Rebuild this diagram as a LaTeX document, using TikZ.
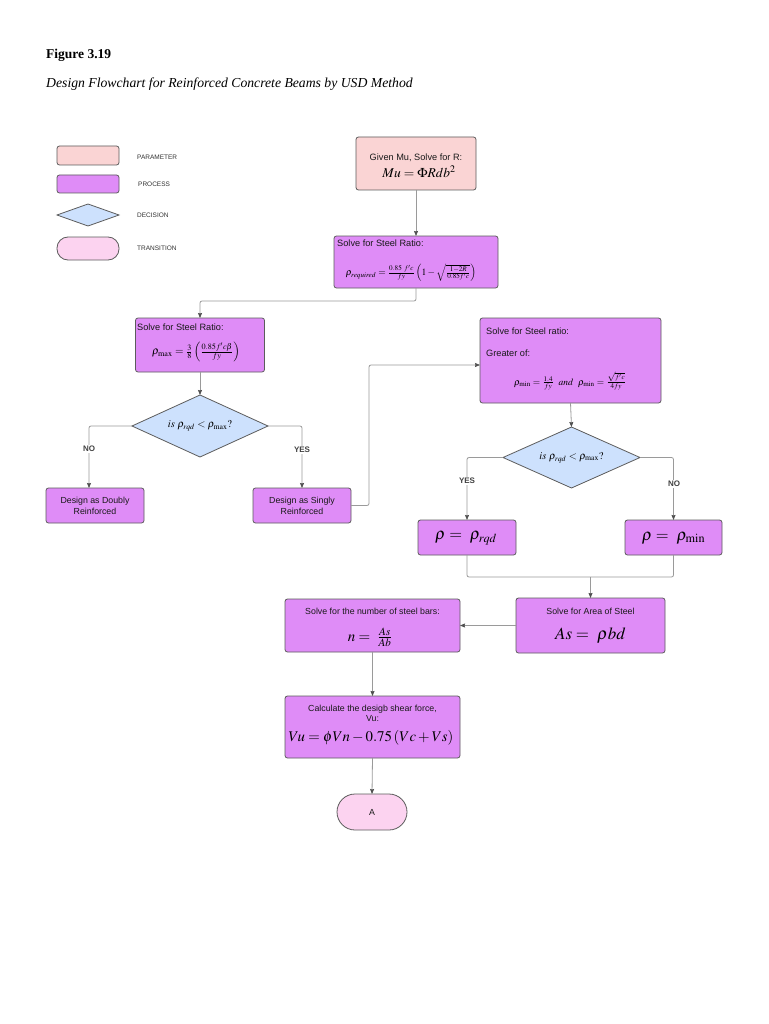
\documentclass[tikz,border=0pt]{standalone}
\usepackage{amsmath}
\usepackage{mathptmx}
\usepackage{fontspec}
\setmainfont{Liberation Serif}
\newfontfamily\uisans{Liberation Sans}
\usetikzlibrary{shapes.geometric,arrows.meta}
\definecolor{paramc}{HTML}{FAD4D4}
\definecolor{procc}{HTML}{DF8CF7}
\definecolor{decc}{HTML}{CDE1FD}
\definecolor{transc}{HTML}{FCD3F0}
\definecolor{edgec}{HTML}{5C5C5C}
\definecolor{connc}{HTML}{9A9A9A}
\definecolor{tipc}{HTML}{505050}
\tikzset{
  boxbase/.style={draw=edgec, line width=0.8pt, rounded corners=2.5pt, inner sep=0pt, outer sep=0pt},
  parambox/.style={boxbase, fill=paramc},
  procbox/.style={boxbase, fill=procc},
  decbox/.style={draw=edgec, line width=0.8pt, fill=decc, shape=diamond, inner sep=0pt, outer sep=0pt},
  transbox/.style={boxbase, fill=transc},
  txt/.style={font=\uisans\fontsize{9.2}{11}\selectfont, inner sep=0pt, text=black!90},
  legtxt/.style={font=\uisans\fontsize{6.5}{8}\selectfont, inner sep=0pt, anchor=west, text=black!80},
  lbl/.style={font=\uisans\bfseries\fontsize{8}{9}\selectfont, fill=white, inner sep=1.5pt, text=black!75},
  mth/.style={inner sep=0pt},
  conn/.style={draw=connc, line width=0.8pt, rounded corners=2pt},
  arr/.style={conn, -{Stealth[length=5pt,width=4pt,inset=0.5pt,color=tipc]}}
}
\begin{document}
\begin{tikzpicture}[x=1pt,y=-1pt]
\useasboundingbox[fill=white] (0,0) rectangle (768,1024);

% titles
\node[anchor=base west, inner sep=0pt, font=\bfseries\fontsize{13.5}{15}\selectfont] (fig) at (46,59) {Figure 3.19};
\node[anchor=base west, inner sep=0pt, font=\itshape\fontsize{13.7}{16}\selectfont] (cap) at (46,88) {Design Flowchart for Reinforced Concrete Beams by USD Method};

% legend
\node[parambox, minimum width=62pt, minimum height=19pt] (lp) at (88,155.5) {};
\node[procbox, minimum width=62pt, minimum height=18pt] (lr) at (88,184) {};
\node[decbox, minimum width=62pt, minimum height=22pt] (ld) at (88,215) {};
\node[transbox, rounded corners=11pt, minimum width=62pt, minimum height=23pt] (lt) at (88,248.5) {};
\node[legtxt] (lpt) at (137,157) {PARAMETER};
\node[legtxt] (lrt) at (138,184) {PROCESS};
\node[legtxt] (ldt) at (137,215) {DECISION};
\node[legtxt] (ltt) at (137,248) {TRANSITION};

% boxes
\node[parambox, minimum width=120pt, minimum height=53pt] (given) at (416,163.5) {};
\node[txt] (givent) at (416,158) {Given Mu, Solve for R:};
\node[mth] (givenf) at (419,172) {\fontsize{13.5}{15}\selectfont$\boldsymbol{Mu = \Phi Rdb^2}$};

\node[procbox, minimum width=164pt, minimum height=52pt] (b1) at (416,262) {};
\node[txt, anchor=west] (b1t) at (337,243.5) {Solve for Steel Ratio:};
\node[mth] (b1f) at (411,273) {\fontsize{9.6}{11}\selectfont$\rho_{required} = \frac{0.85\ f'c}{fy}\left(1-\sqrt{\frac{1-2R}{0.85f'c}}\right)$};

\node[procbox, minimum width=129pt, minimum height=54pt] (b2) at (200,345) {};
\node[txt, anchor=west] (b2t) at (137,327) {Solve for Steel Ratio:};
\node[mth] (b2f) at (196,352) {\fontsize{11}{12}\selectfont$\rho_{\max} = \frac{3}{8}\left(\frac{0.85f'c\beta}{fy}\right)$};

\node[decbox, minimum width=136pt, minimum height=62pt] (d1) at (200,426) {};
\node[mth] (d1t) at (200,426) {\fontsize{10.5}{12}\selectfont$is\ \rho_{rqd} < \rho_{\max}?$};

\node[procbox, minimum width=98pt, minimum height=35pt] (dbl) at (95,505.5) {};
\node[txt, align=center, font=\uisans\fontsize{8.8}{11}\selectfont] (dblt) at (95,505.5) {Design as Doubly\\Reinforced};

\node[procbox, minimum width=98pt, minimum height=35pt] (sgl) at (302,505.5) {};
\node[txt, align=center, font=\uisans\fontsize{8.8}{11}\selectfont] (sglt) at (302,505.5) {Design as Singly\\Reinforced};

\node[procbox, minimum width=181pt, minimum height=85pt] (b3) at (570.5,360.5) {};
\node[txt, anchor=west] (b3t) at (486,331) {Solve for Steel ratio:};
\node[txt, anchor=west] (b3g) at (486,353) {Greater of:};
\node[mth] (b3f) at (570,381) {\fontsize{9.5}{11}\selectfont$\rho_{\min} = \frac{1.4}{fy}\ \ and\ \ \rho_{\min} = \frac{\sqrt{f'c}}{4fy}$};

\node[decbox, minimum width=137pt, minimum height=61pt] (d2) at (571.5,457.5) {};
\node[mth] (d2t) at (571.5,457.5) {\fontsize{10.5}{12}\selectfont$is\ \rho_{rqd} < \rho_{\max}?$};

\node[procbox, minimum width=98pt, minimum height=35pt] (rqd) at (467,537.5) {};
\node[mth] (rqdt) at (466,538) {\fontsize{16.5}{18}\selectfont$\rho =\ \rho_{rqd}$};

\node[procbox, minimum width=97pt, minimum height=35pt] (mn) at (673.5,537.5) {};
\node[mth] (mnt) at (673.5,538) {\fontsize{16.5}{18}\selectfont$\rho =\ \rho_{\min}$};

\node[procbox, minimum width=149pt, minimum height=55pt] (area) at (590.5,625.5) {};
\node[txt, font=\uisans\fontsize{8.8}{10}\selectfont] (areat) at (590.5,611) {Solve for Area of Steel};
\node[mth] (areaf) at (590.5,636) {\fontsize{17}{19}\selectfont$As =\ \rho bd$};

\node[procbox, minimum width=175pt, minimum height=53pt] (nb) at (372.5,625.5) {};
\node[txt, font=\uisans\fontsize{8.8}{10}\selectfont] (nbt) at (372.5,611) {Solve for the number of steel bars:};
\node[mth] (nbf) at (370,637) {\fontsize{15}{17}\selectfont$\boldsymbol{n =\ \frac{As}{Ab}}$};

\node[procbox, minimum width=175pt, minimum height=62pt] (vu) at (372.5,727) {};
\node[txt, align=center, font=\uisans\fontsize{8.8}{9.5}\selectfont] (vut) at (372.5,713.5) {Calculate the desigb shear force,\\Vu:};
\node[mth] (vuf) at (371,738) {\fontsize{14.8}{17}\selectfont$\boldsymbol{Vu = \phi Vn - 0.75\,(Vc + Vs)}$};

\node[transbox, rounded corners=18pt, minimum width=70pt, minimum height=36pt] (A) at (372,812) {};
\node[txt, font=\uisans\fontsize{8.8}{10}\selectfont] (At) at (372,812) {A};

% connectors
\draw[arr] (given.south) -- (b1.north);
\draw[arr] (b1.south) |- ([yshift=17pt]b2.north) -- (b2.north);
\draw[arr] (b2.south) -- (d1.north);
\draw[arr] (d1.west) -| ([xshift=-6pt]dbl.north);
\draw[arr] (d1.east) -| (sgl.north);
\node[lbl] (no1) at (89,449) {NO};
\node[lbl] (yes1) at (302,450) {YES};
\draw[arr] (sgl.east) -- ++(18,0) |- ([yshift=-4.5pt]b3.west);
\draw[arr] (b3.south) -- (d2.north);
\draw[arr] (d2.west) -| (rqd.north);
\draw[arr] (d2.east) -| (mn.north);
\node[lbl] (yes2) at (467,481) {YES};
\node[lbl] (no2) at (674,484) {NO};
\coordinate (m) at (590.5,577);
\draw[conn] (rqd.south) -- (rqd.south |- m) -- (mn.south |- m) -- (mn.south);
\draw[arr] (m) -- (area.north);
\draw[arr] (area.west) -- (nb.east);
\draw[arr] (nb.south) -- (vu.north);
\draw[arr] (vu.south) -- (A.north);
\end{tikzpicture}
\end{document}
